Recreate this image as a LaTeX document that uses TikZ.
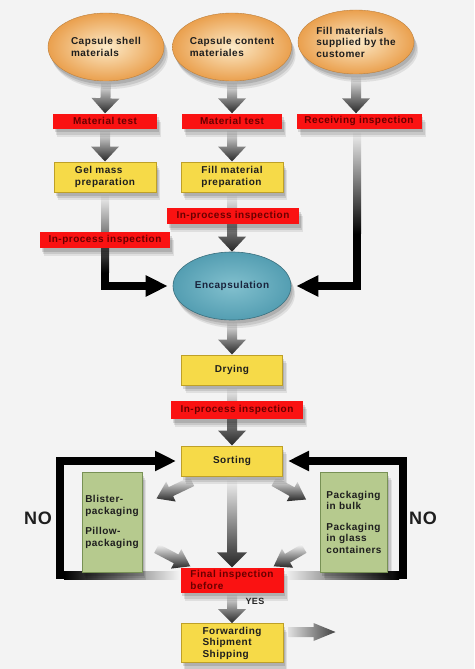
\documentclass[tikz,border=0pt]{standalone}
\usepackage{fontspec}
\setmainfont{Liberation Sans}[LetterSpace=5]
\usetikzlibrary{shapes.geometric,arrows.meta,calc,shadows}
\definecolor{ybox}{RGB}{246,218,72}
\definecolor{yborder}{RGB}{190,160,40}
\definecolor{rbox}{RGB}{250,18,18}
\definecolor{rtext}{RGB}{105,0,0}
\definecolor{gbox}{RGB}{182,202,142}
\definecolor{gborder}{RGB}{120,145,85}
\definecolor{oin}{RGB}{252,234,200}
\definecolor{oout}{RGB}{234,160,78}
\definecolor{tin}{RGB}{130,192,206}
\definecolor{tout}{RGB}{84,158,178}
\definecolor{bgc}{RGB}{243,243,243}
\definecolor{txt}{RGB}{30,30,30}
\definecolor{navy}{RGB}{25,35,60}
\pgfdeclarelayer{bg}
\pgfdeclarelayer{arr}
\pgfsetlayers{bg,arr,main}
\newcommand\blkarrow[6]{%
  \coordinate (bn) at ($(#2)!#6!(#1)$);
  \shade[#3] ($(#1)!#4!90:(#2)$) -- ($(bn)!#4!90:(#2)$) -- ($(bn)!#5!90:(#2)$) -- (#2)
    -- ($(bn)!#5!-90:(#2)$) -- ($(bn)!#4!-90:(#2)$) -- ($(#1)!#4!-90:(#2)$) -- cycle;}
\tikzset{
  base/.style={font=\bfseries\fontsize{10}{11.5}\selectfont, text=txt, align=left, inner sep=0pt},
  shad/.style={drop shadow={shadow xshift=4pt, shadow yshift=-8pt, opacity=0.08, fill=black},
               drop shadow={shadow xshift=3pt, shadow yshift=-6pt, opacity=0.10, fill=black},
               drop shadow={shadow xshift=1.5pt, shadow yshift=-3.5pt, opacity=0.12, fill=black}},
  oval/.style={base, ellipse, minimum width=116pt, minimum height=68pt, inner color=oin, outer color=oout, draw=oout!80!black, line width=0.4pt, shad},
  encst/.style={base, ellipse, minimum width=118pt, minimum height=68pt, inner color=tin, outer color=tout, draw=tout!70!black, line width=0.6pt, text=navy, shad},
  redb/.style={base, rectangle, fill=rbox, text=rtext, minimum height=15pt, shad},
  yel/.style={base, rectangle, fill=ybox, draw=yborder, line width=1pt, minimum width=101pt, minimum height=30pt, shad},
  grn/.style={base, rectangle, fill=gbox, draw=gborder, line width=1pt, minimum height=100pt, shad},
  nolab/.style={font=\bfseries\fontsize{18}{20}\selectfont, text=txt, inner sep=0pt},
  yeslab/.style={font=\bfseries\fontsize{9}{10}\selectfont, text=black!85, inner sep=0pt},
  dnshade/.style={top color=gray!6, bottom color=black!85},
  rtshade/.style={left color=gray!25, right color=black!75},
  bigline/.style={line width=8pt, black, line join=miter, -{Triangle[length=22pt,width=20pt]}, shorten >=5pt},
  loopline/.style={line width=8pt, black, line join=miter, -{Triangle[length=21pt,width=19pt]}, shorten >=5pt},
}
\begin{document}
\begin{tikzpicture}[x=1pt,y=-1pt]
\begin{pgfonlayer}{bg}
\fill[bgc] (0,0) rectangle (474,669);
\end{pgfonlayer}
\useasboundingbox (0,0) rectangle (474,669);

% nodes
\node[oval] (e1) at (106,47) {Capsule shell\\materials};
\node[oval] (e2) at (232,47) {Capsule content\\materiales};
\node[oval, minimum height=64pt] (e3) at (356,42) {Fill materials\\supplied by the\\customer};
\node[redb, minimum width=104pt] (mt1) at (105,121) {Material test};
\node[redb, minimum width=100pt] (mt2) at (232,121) {Material test};
\node[redb, minimum width=125pt] (ri) at (359,121) {Receiving inspection};
\node[yel, minimum width=102pt] (gel) at (105,177) {Gel mass\\preparation};
\node[yel, minimum width=102pt] (fill) at (232,177) {Fill material\\preparation};
\node[redb, minimum width=130pt, minimum height=16pt] (ip1) at (105,240) {In-process inspection};
\node[redb, minimum width=132pt, minimum height=16pt] (ip2) at (233,216) {In-process inspection};
\node[encst] (enc) at (232,286) {Encapsulation};
\node[yel] (dry) at (232,370) {Drying};
\node[redb, minimum width=132pt, minimum height=18pt] (ip3) at (237,410) {In-process inspection};
\node[yel] (sort) at (232,461) {Sorting};
\node[grn, minimum width=60pt] (lg) at (112,522) {Blister-\\packaging\\[9pt]Pillow-\\packaging};
\node[grn, minimum width=67pt] (rg) at (354,522) {Packaging\\in bulk\\[9pt]Packaging\\in glass\\containers};
\node[redb, minimum width=103pt, minimum height=25pt] (fin) at (232,580) {Final inspection\\before};
\node[yel, minimum width=102pt, minimum height=39pt] (fwd) at (232,643) {Forwarding\\Shipment\\Shipping};
\node[nolab] (no1) at (38,518) {NO};
\node[nolab] (no2) at (423,518) {NO};
\node[yeslab] (yes) at (255,601) {YES};

% helper coordinates
\coordinate (e3b) at (e3.south |- ri.north);
\coordinate (rv) at ($(ri.south)+(-2,0)$);
\coordinate (lb) at ($(fin.west)+(0,-5)$);
\coordinate (lc) at ($(sort.west)+(-121,0)$);
\coordinate (lcb) at (lc |- lb);
\coordinate (rb) at ($(fin.east)+(0,-5)$);
\coordinate (rc) at ($(sort.east)+(120,0)$);
\coordinate (rcb) at (rc |- rb);
\coordinate (d1s) at ($(sort.south west)+(11,5)$);
\coordinate (d1e) at ($(lg.north east)+(14,27)$);
\coordinate (d2s) at ($(sort.south east)+(-9,5)$);
\coordinate (d2e) at ($(rg.north west)+(-14,28)$);
\coordinate (d3s) at ($(lg.south east)+(14,-24)$);
\coordinate (d3e) at ($(fin.north west)+(10,-1)$);
\coordinate (d4s) at ($(rg.south west)+(-16,-24)$);
\coordinate (d4e) at ($(fin.north east)+(-10,-1)$);
\coordinate (fws) at ($(fwd.east)+(5,-11)$);
\coordinate (fwe) at ($(fwd.east)+(52,-11)$);

\begin{pgfonlayer}{arr}
\blkarrow{e1.south}{mt1.north}{dnshade}{5pt}{14pt}{15pt}
\blkarrow{e2.south}{mt2.north}{dnshade}{5pt}{14pt}{15pt}
\blkarrow{e3.south}{e3b}{dnshade}{5pt}{14pt}{15pt}
\blkarrow{mt1.south}{gel.north}{dnshade}{5pt}{14pt}{15pt}
\blkarrow{mt2.south}{fill.north}{dnshade}{5pt}{14pt}{15pt}
\blkarrow{fill.south}{enc.north}{dnshade}{5pt}{14pt}{15pt}
\blkarrow{enc.south}{dry.north}{dnshade}{5pt}{14pt}{15pt}
\blkarrow{dry.south}{sort.north}{dnshade}{5pt}{14pt}{15pt}
\blkarrow{sort.south}{fin.north}{dnshade}{5pt}{15pt}{15pt}
\blkarrow{fin.south}{fwd.north}{dnshade}{5pt}{14pt}{14pt}
\blkarrow{d1s}{d1e}{dnshade}{5pt}{11pt}{16pt}
\blkarrow{d2s}{d2e}{dnshade}{5pt}{11pt}{16pt}
\blkarrow{d3s}{d3e}{dnshade}{5pt}{11pt}{16pt}
\blkarrow{d4s}{d4e}{dnshade}{5pt}{11pt}{16pt}
\blkarrow{fws}{fwe}{rtshade}{5pt}{9pt}{22pt}
% L-shaped feeds into encapsulation
\draw[bigline] (gel.south) |- (enc.west);
\shade[top color=gray!6, bottom color=black] ($(gel.south)+(-4,0)$) rectangle ($(gel.south)+(4,80)$);
\draw[bigline] (rv) |- (enc.east);
\shade[top color=gray!6, bottom color=black] ($(rv)+(-4,0)$) rectangle ($(rv)+(4,105)$);
% feedback loops
\draw[loopline] (lb) -| (lc) -- (sort.west);
\shade[left color=black, middle color=gray!45, right color=gray!8] ($(lcb)+(4,-4)$) rectangle ($(lb)+(0,4)$);
\draw[loopline] (rb) -| (rc) -- (sort.east);
\shade[left color=gray!8, middle color=gray!45, right color=black] ($(rb)+(0,-4)$) rectangle ($(rcb)+(-4,4)$);
\end{pgfonlayer}
\end{tikzpicture}
\end{document}
